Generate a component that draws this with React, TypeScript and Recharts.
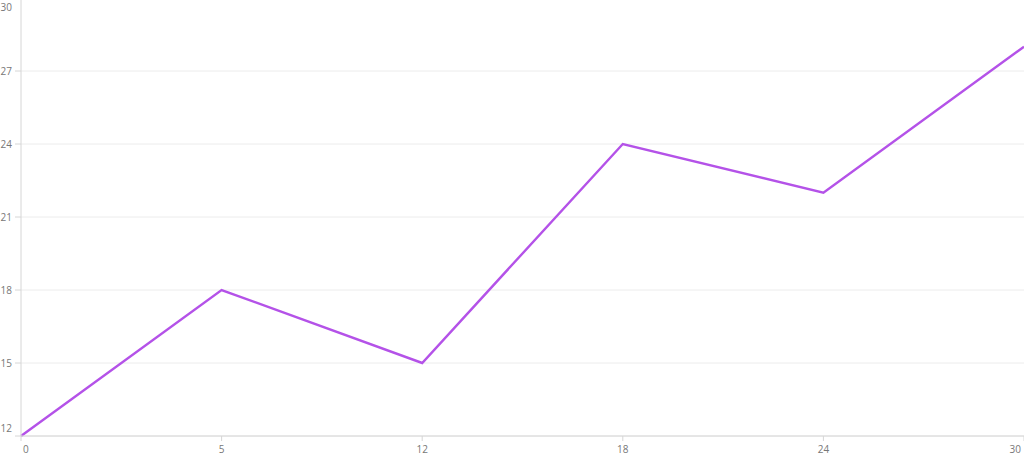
import React from "react";
import { LineChart, Line, CartesianGrid, XAxis, YAxis } from "recharts";

const categories = ["0", "5", "12", "18", "24", "30"];
const values = [12, 18, 15, 24, 22, 28];
const yTicks = [12, 15, 18, 21, 24, 27, 30];

const data = categories.map((label, i) => ({ label, value: values[i] }));

const labelColor = "#777";
const fontFamily = "'Open Sans', 'Noto Sans', sans-serif";

const XTick = (props: any) => {
  const { x, y, payload, index } = props;
  const last = categories.length - 1;
  let anchor: "start" | "middle" | "end" = "middle";
  let tx = x;
  if (index === 0) {
    anchor = "start";
    tx = x + 2;
  } else if (index === last) {
    anchor = "end";
    tx = x - 3;
  }
  return (
    <text x={tx} y={y + 9.5} textAnchor={anchor} fill={labelColor} fontSize={10} fontFamily={fontFamily}>
      {payload.value}
    </text>
  );
};

const YTick = (props: any) => {
  const { x, y, payload } = props;
  let dy = 3.5;
  if (payload.value === 30) dy = 13;
  if (payload.value === 12) dy = -4;
  return (
    <text x={x - 1} y={y + dy} textAnchor="end" fill={labelColor} fontSize={10} fontFamily={fontFamily}>
      {payload.value}
    </text>
  );
};

const App: React.FC = () => {
  return (
    <div
      style={{
        position: "absolute",
        left: 0,
        top: 0,
        width: 1024,
        height: 456,
        overflow: "hidden",
        background: "#fff",
      }}
    >
      <div style={{ position: "relative", top: -2 }}>
        <LineChart width={1024} height={460} data={data} margin={{ top: 0, right: 0, left: 0, bottom: 0 }}>
          <CartesianGrid vertical={false} stroke="#ececec" />
          <XAxis
            dataKey="label"
            height={22}
            tickSize={5}
            tickMargin={2}
            stroke="#d6d6d6"
            tickLine={{ stroke: "#d6d6d6" }}
            tick={<XTick />}
            interval={0}
          />
          <YAxis
            width={21}
            domain={[12, 30]}
            ticks={yTicks}
            tickSize={6}
            tickMargin={2}
            stroke="#d6d6d6"
            tickLine={{ stroke: "#d6d6d6" }}
            tick={<YTick />}
            interval={0}
          />
          <Line
            type="linear"
            dataKey="value"
            stroke="#b452e8"
            strokeWidth={2.4}
            dot={false}
            activeDot={false}
            isAnimationActive={false}
          />
        </LineChart>
      </div>
    </div>
  );
};

export default App;
